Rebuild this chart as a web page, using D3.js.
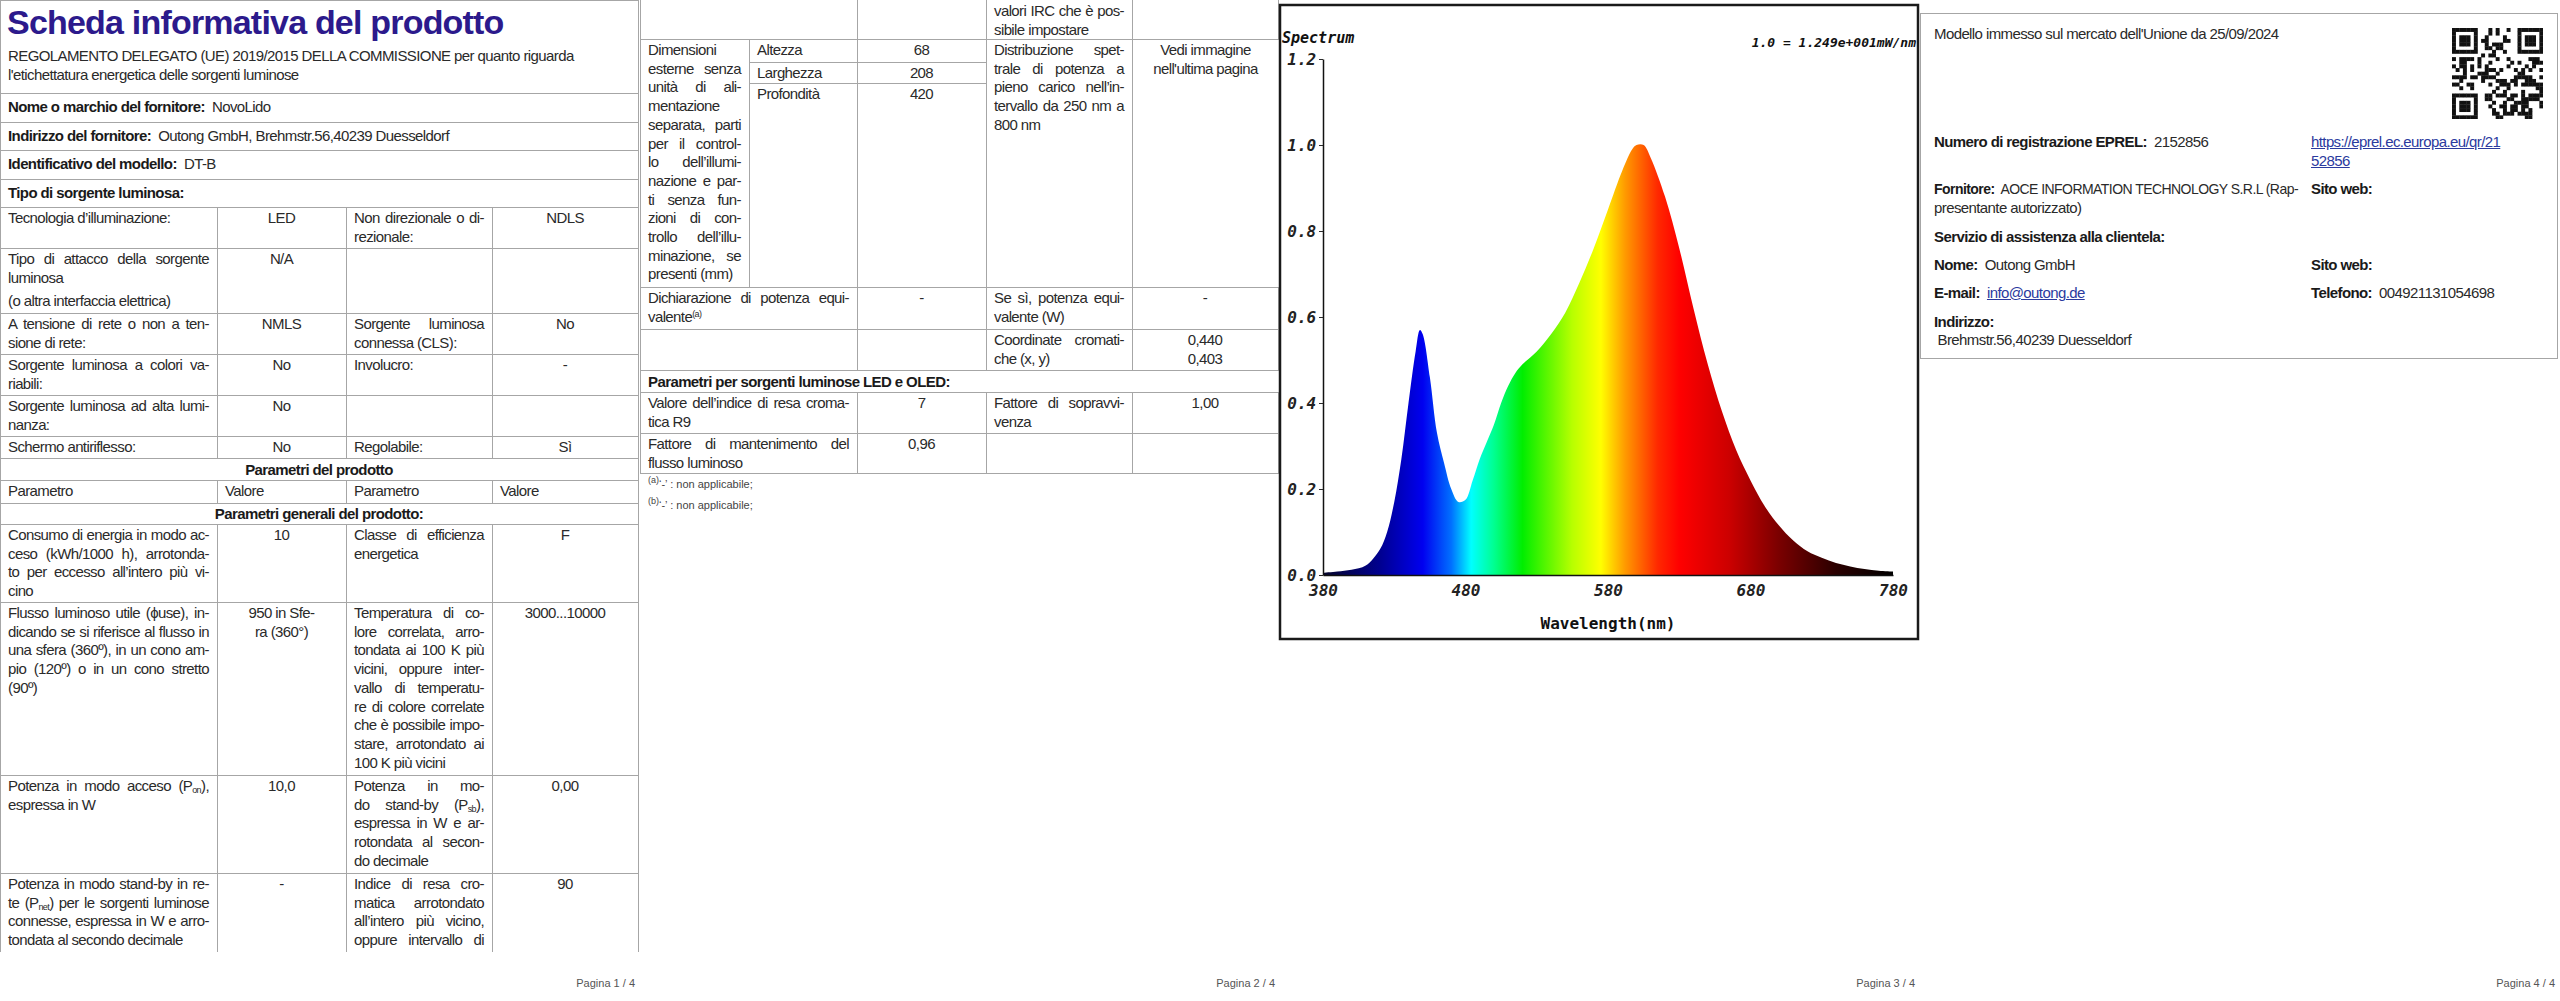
<!DOCTYPE html>
<html lang="it">
<head>
<meta charset="UTF-8">
<title>Scheda informativa del prodotto</title>
<script src="https://d3js.org/d3.v7.min.js"></script>
<style>
  body { margin: 0; background: #fff; }
  #doc { position: relative; width: 2560px; height: 1001px; overflow: hidden;
         font-family: "Liberation Sans", "Noto Sans", sans-serif; color: #2a2a2a; }
  .cell { position: absolute; box-sizing: border-box; padding: 2px 8px 0 8px; font-size: 15px; line-height: 18.7px; letter-spacing: -0.6px; }
  .ln { white-space: nowrap; }
  .ln span.in { display: inline-block; transform-origin: left center; }
  .bd { position: absolute; background: #a6a6a6; }
  .foot { position: absolute; font-size: 11px; color: #555; text-align: right; width: 200px; }
  sub { font-size: 9px; vertical-align: -2px; line-height: 0; }
  sup { font-size: 9px; vertical-align: 5px; line-height: 0; }
  .lnk { color: #2b3a9e; text-decoration: underline; }
  b { font-weight: bold; color: #1a1a1a; }
</style>
</head>
<body>
<div id="doc"></div>
<script>
// ---- table content ----
const cols = [0, 217, 346, 492, 638];

const page1Head = [
  ["<b>Nome o marchio del fornitore:</b>&nbsp; NovoLido"],
  ["<b>Indirizzo del fornitore:</b>&nbsp; Outong GmbH, Brehmstr.56,40239 Duesseldorf"],
  ["<b>Identificativo del modello:</b>&nbsp; DT-B"],
  ["<b>Tipo di sorgente luminosa:</b>"]
];

const page1Rows = [
  { y: 207, h: 41, c: [["Tecnologia d’illuminazione:"], ["LED"], ["Non direzionale o di-", "rezionale:"], ["NDLS"]] },
  { y: 248, h: 65, c: [["Tipo di attacco della sorgente", "luminosa", "|(o altra interfaccia elettrica)"], ["N/A"], [], []] },
  { y: 313, h: 41, c: [["A tensione di rete o non a ten-", "sione di rete:"], ["NMLS"], ["Sorgente luminosa", "connessa (CLS):"], ["No"]] },
  { y: 354, h: 41, c: [["Sorgente luminosa a colori va-", "riabili:"], ["No"], ["Involucro:"], ["-"]] },
  { y: 395, h: 41, c: [["Sorgente luminosa ad alta lumi-", "nanza:"], ["No"], [], []] },
  { y: 436, h: 22, c: [["Schermo antiriflesso:"], ["No"], ["Regolabile:"], ["Sì"]] }
];

const page1Params = [
  { y: 524, h: 78, c: [["Consumo di energia in modo ac-", "ceso (kWh/1000 h), arrotonda-", "to per eccesso all’intero più vi-", "cino"], ["10"], ["Classe di efficienza", "energetica"], ["F"]] },
  { y: 602, h: 173, c: [["Flusso luminoso utile (ϕuse), in-", "dicando se si riferisce al flusso in", "una sfera (360º), in un cono am-", "pio (120º) o in un cono stretto", "(90º)"], ["950 in Sfe-", "ra (360°)"],
      ["Temperatura di co-", "lore correlata, arro-", "tondata ai 100 K più", "vicini, oppure inter-", "vallo di temperatu-", "re di colore correlate", "che è possibile impo-", "stare, arrotondato ai", "100 K più vicini"], ["3000...10000"]] },
  { y: 775, h: 98, c: [["Potenza in modo acceso (P<sub>on</sub>),", "espressa in W"], ["10,0"], ["Potenza in mo-", "do stand-by (P<sub>sb</sub>),", "espressa in W e ar-", "rotondata al secon-", "do decimale"], ["0,00"]] },
  { y: 873, h: 79, open: true, c: [["Potenza in modo stand-by in re-", "te (P<sub>net</sub>) per le sorgenti luminose", "connesse, espressa in W e arro-", "tondata al secondo decimale"], ["-"], ["Indice di resa cro-", "matica arrotondato", "all’intero più vicino,", "oppure intervallo di~"], ["90"]] }
];

const page2Rows = [
  { y: 0, h: 39, noTop: true, c: [[], [], ["valori IRC che è pos-", "sibile impostare"], []] },
  { y: 287, h: 42, c: [["Dichiarazione di potenza equi-", "valente<sup>(a)</sup>"], ["-"], ["Se sì, potenza equi-", "valente (W)"], ["-"]] },
  { y: 329, h: 41, c: [[], [], ["Coordinate cromati-", "che (x, y)"], ["0,440", "0,403"]] },
  { y: 392, h: 41, c: [["Valore dell’indice di resa croma-", "tica R9"], ["7"], ["Fattore di sopravvi-", "venza"], ["1,00"]] },
  { y: 433, h: 40, c: [["Fattore di mantenimento del", "flusso luminoso"], ["0,96"], [], []] }
];
const dimLabel = ["Dimensioni", "esterne senza", "unità di ali-", "mentazione", "separata, parti", "per il control-", "lo dell’illumi-", "nazione e par-", "ti senza fun-", "zioni di con-", "trollo dell’illu-", "minazione, se", "presenti (mm)"];
const dimNames = ["Altezza", "Larghezza", "Profondità"];
const dimValues = ["68", "208", "420"];
const footnotes = ["<sup>(a)</sup>‘-’ : non applicabile;", "<sup>(b)</sup>‘-’ : non applicabile;"];

// ---- spectrum ----
const wavelengths = [380, 390, 400, 410, 420, 425, 430, 435, 440, 445, 448, 450, 455, 460, 465, 470, 475, 480, 485, 490, 495, 500, 505, 510, 515, 520, 530, 540, 550, 560, 570, 580, 590, 597, 600, 605, 610, 620, 630, 640, 650, 660, 670, 680, 690, 700, 710, 720, 730, 740, 750, 760, 770, 780];
const intensity =   [0.005, 0.008, 0.012, 0.022, 0.06, 0.10, 0.17, 0.27, 0.40, 0.52, 0.57, 0.56, 0.46, 0.33, 0.26, 0.20, 0.17, 0.175, 0.22, 0.27, 0.31, 0.35, 0.40, 0.44, 0.47, 0.49, 0.52, 0.56, 0.61, 0.68, 0.76, 0.85, 0.94, 0.99, 1.0, 1.0, 0.97, 0.88, 0.76, 0.62, 0.49, 0.38, 0.29, 0.22, 0.16, 0.115, 0.08, 0.055, 0.04, 0.028, 0.02, 0.014, 0.01, 0.008];
const specStops = [[380, "#05052a"], [420, "#000090"], [450, "#0000f0"], [470, "#0070ff"], [484, "#00ffff"], [500, "#00ff90"], [520, "#00ee00"], [555, "#b8ff00"], [575, "#ffff00"], [592, "#ff9a00"], [615, "#ff2800"], [630, "#ff0000"], [665, "#cc0000"], [700, "#7a0000"], [740, "#2a0000"], [780, "#000000"]];
const yTicks = [0, 0.2, 0.4, 0.6, 0.8, 1.0, 1.2];
const xTicks = [380, 480, 580, 680, 780];

// ---- page 4 ----
const infoLeft = [
  { y: 143, t: "<b>Numero di registrazione EPREL:</b>&nbsp; 2152856" },
  { y: 190, t: "<b>Fornitore:</b>&nbsp; AOCE INFORMATION TECHNOLOGY S.R.L (Rap-" },
  { y: 209, t: "presentante autorizzato)" },
  { y: 238, t: "<b>Servizio di assistenza alla clientela:</b>" },
  { y: 266, t: "<b>Nome:</b>&nbsp; Outong GmbH" },
  { y: 294, t: "<b>E-mail:</b>&nbsp; <span class='lnk'>info@outong.de</span>" },
  { y: 323, t: "<b>Indirizzo:</b>" },
  { y: 341, t: "&nbsp;Brehmstr.56,40239 Duesseldorf" }
];
const infoRight = [
  { y: 143, t: "<span class='lnk'>https://eprel.ec.europa.eu/qr/21</span>" },
  { y: 162, t: "<span class='lnk'>52856</span>" },
  { y: 190, t: "<b>Sito web:</b>" },
  { y: 266, t: "<b>Sito web:</b>" },
  { y: 294, t: "<b>Telefono:</b>&nbsp; 004921131054698" }
];

const doc = d3.select("#doc");

function hline(x, y, w) { doc.append("div").attr("class", "bd").style("left", x + "px").style("top", y + "px").style("width", w + "px").style("height", "1px"); }
function vline(x, y, h) { doc.append("div").attr("class", "bd").style("left", x + "px").style("top", y + "px").style("width", "1px").style("height", h + "px"); }

// lines: justify by word-spacing, squeeze if too wide
function cell(x, y, w, lines, align, noJustify) {
  const avail = w - 16;
  const c = doc.append("div").attr("class", "cell")
    .style("left", x + "px").style("top", y + "px").style("width", w + "px")
    .style("text-align", align || "left");
  lines.forEach((l, i) => {
    let t = l, gap = false, force = false;
    if (t.startsWith("|")) { t = t.slice(1); gap = true; }
    if (t.endsWith("~")) { t = t.slice(0, -1); force = true; }
    const last = i === lines.length - 1 || (lines[i + 1] || "").startsWith("|");
    const d = c.append("div").attr("class", "ln");
    const sp = d.append("span").attr("class", "in").html(t);
    if (gap) d.style("margin-top", "5px");
    const nat = sp.node().getBoundingClientRect().width;
    if (nat > avail) { sp.style("transform", `scaleX(${avail / nat})`); return; }
    if (!noJustify && align !== "center" && (!last || force)) {
      const spaces = (sp.node().textContent.match(/ /g) || []).length;
      if (spaces) sp.style("word-spacing", ((avail - nat) / spaces) + "px");
    }
  });
}

function fourColRow(ox, r) {
  const x0 = ox + cols[0], x1 = ox + cols[4];
  if (!r.noTop) hline(x0, r.y, x1 - x0 + 1);
  if (!r.open) hline(x0, r.y + r.h, x1 - x0 + 1);
  cols.forEach(c => vline(ox + c, r.y, r.h));
  r.c.forEach((lines, i) => cell(ox + cols[i], r.y, cols[i + 1] - cols[i], lines, i % 2 ? "center" : "left"));
}

// ---- page 1 ----
doc.append("div").style("position", "absolute").style("left", "7px").style("top", "2px")
  .style("font-size", "34px").style("line-height", "40px").style("font-weight", "bold").style("color", "#2c1a8c").style("letter-spacing", "-0.8px")
  .text("Scheda informativa del prodotto");
cell(0, 45, 638, ["REGOLAMENTO DELEGATO (UE) 2019/2015 DELLA COMMISSIONE per quanto riguarda", "l'etichettatura energetica delle sorgenti luminose"], "left", true);
hline(0, 0, 639);
vline(0, 0, 952); vline(638, 0, 952);
const headY = [93, 122, 150, 179];
page1Head.forEach((l, i) => { hline(0, headY[i], 639); cell(0, headY[i] + 3, 638, l); });
page1Rows.forEach(r => fourColRow(0, r));
cell(0, 459, 638, ["<b>Parametri del prodotto</b>"], "center");
fourColRow(0, { y: 480, h: 23, c: [["Parametro"], [], ["Parametro"], []] });
cell(217, 480, 129, ["Valore"]); cell(492, 480, 146, ["Valore"]);
cell(0, 503, 638, ["<b>Parametri generali del prodotto:</b>"], "center");
page1Params.forEach(r => fourColRow(0, r));

// ---- page 2 ----
const p2 = 640;
page2Rows.forEach(r => fourColRow(p2, r));
hline(p2, 39, 640); hline(p2, 287, 640);
[0, 109, 217, 346, 492, 639].forEach(c => vline(p2 + c, 39, 248));
cell(p2, 39, 109, dimLabel);
const dimY = [39, 62, 83];
dimNames.forEach((n, i) => {
  if (i) hline(p2 + 109, dimY[i], 237);
  cell(p2 + 109, dimY[i], 108, [n]);
  cell(p2 + 217, dimY[i], 129, [dimValues[i]], "center");
});
cell(p2 + 346, 39, 146, ["Distribuzione spet-", "trale di potenza a", "pieno carico nell’in-", "tervallo da 250 nm a", "800 nm"]);
cell(p2 + 492, 39, 147, ["Vedi immagine", "nell'ultima pagina"], "center");
hline(p2, 370, 640); vline(p2, 370, 22); vline(p2 + 639, 370, 22);
cell(p2, 371, 638, ["<b>Parametri per sorgenti luminose LED e OLED:</b>"]);
footnotes.forEach((f, i) => doc.append("div").style("position", "absolute").style("left", (p2 + 8) + "px")
  .style("top", (478 + i * 21) + "px").style("font-size", "11px").style("color", "#444").html(f));

// ---- page 3: spectrum ----
const svg = doc.append("svg").style("position", "absolute").style("left", "1278px").style("top", "3px")
  .attr("width", 644).attr("height", 640);
svg.append("rect").attr("x", 2).attr("y", 2).attr("width", 638).attr("height", 634)
  .attr("fill", "#fff").attr("stroke", "#1a1a1a").attr("stroke-width", 2.5);
const x = d3.scaleLinear().domain([380, 780]).range([45, 615]);
const y = d3.scaleLinear().domain([0, 1.2]).range([572, 56]);
const grad = svg.append("defs").append("linearGradient").attr("id", "spec")
  .attr("gradientUnits", "userSpaceOnUse").attr("x1", x(380)).attr("x2", x(780)).attr("y1", 0).attr("y2", 0);
specStops.forEach(s => grad.append("stop").attr("offset", (s[0] - 380) / 400).attr("stop-color", s[1]));
const pts = wavelengths.map((w, i) => [w, intensity[i]]);
svg.append("path").datum(pts)
  .attr("d", d3.area().x(d => x(d[0])).y0(y(0)).y1(d => y(d[1])).curve(d3.curveCatmullRom))
  .attr("fill", "url(#spec)");
const mono = "'DejaVu Sans Mono', monospace";
const yAx = svg.append("g").attr("transform", `translate(${x(380)},0)`)
  .call(d3.axisLeft(y).tickValues(yTicks).tickFormat(d3.format(".1f")).tickSize(4).tickSizeOuter(0));
const xAx = svg.append("g").attr("transform", `translate(0,${y(0)})`)
  .call(d3.axisBottom(x).tickValues(xTicks).tickSize(0).tickSizeOuter(0).tickPadding(10));
[yAx, xAx].forEach(a => {
  a.select(".domain").attr("stroke", "#111").attr("stroke-width", 1.5);
  a.selectAll("text").attr("font-family", mono).attr("font-style", "italic").attr("font-weight", "bold")
    .attr("font-size", 16).attr("fill", "#222");
});
yAx.selectAll("text").attr("x", -2).attr("dx", "-0.3em").attr("text-anchor", "end");
svg.append("text").attr("x", 4).attr("y", 40).text("Spectrum").attr("font-family", mono)
  .attr("font-weight", "bold").attr("font-style", "italic").attr("font-size", 15).attr("fill", "#111");
svg.append("text").attr("x", 638).attr("y", 44).attr("text-anchor", "end").text("1.0 = 1.249e+001mW/nm")
  .attr("font-family", mono).attr("font-weight", "bold").attr("font-style", "italic").attr("font-size", 13).attr("fill", "#111");
svg.append("text").attr("x", 330).attr("y", 626).attr("text-anchor", "middle").text("Wavelength(nm)")
  .attr("font-family", mono).attr("font-weight", "bold").attr("font-size", 16).attr("fill", "#111");

// ---- page 4 ----
doc.append("div").style("position", "absolute").style("left", "1920px").style("top", "13px")
  .style("width", "636px").style("height", "344px").style("border", "1px solid #a6a6a6");
const info = (list, left, w) => list.forEach(d => cell(left - 8, d.y - 12, w, [d.t], "left", true));
info([{ y: 35, t: "Modello immesso sul mercato dell'Unione da 25/09/2024" }], 1934, 500);
info(infoLeft, 1934, 380);
info(infoRight, 2311, 240);
const qr = doc.append("svg").style("position", "absolute").style("left", "2452px").style("top", "28px")
  .attr("width", 91).attr("height", 91);
const n = 25, m = 91 / n;
for (let i = 0; i < n; i++) for (let j = 0; j < n; j++) {
  const fin = (a, b) => (a < 7 && b < 7);
  let on;
  const inF = fin(i, j) || fin(n - 1 - i, j) || fin(i, n - 1 - j);
  if (inF) {
    const a = fin(i, j) ? i : (fin(n - 1 - i, j) ? n - 1 - i : i), b = fin(i, j) ? j : (fin(n - 1 - i, j) ? j : n - 1 - j);
    on = (a === 0 || a === 6 || b === 0 || b === 6) || (a >= 2 && a <= 4 && b >= 2 && b <= 4);
  } else if ((i < 8 && j < 8) || (i > n - 9 && j < 8) || (i < 8 && j > n - 9)) on = false;
  else on = (((i * 7 + j * 13) ^ (i * j)) % 5) < 2;
  if (on) qr.append("rect").attr("x", j * m).attr("y", i * m).attr("width", m + 0.3).attr("height", m + 0.3).attr("fill", "#111");
}

// ---- footers ----
[1, 2, 3, 4].forEach(p => doc.append("div").attr("class", "foot")
  .style("left", (p * 640 - 205) + "px").style("top", "977px").text(`Pagina ${p} / 4`));
</script>
</body>
</html>
